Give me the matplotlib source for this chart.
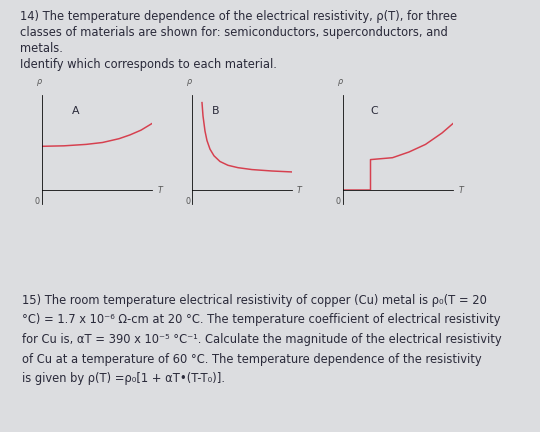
import matplotlib.pyplot as plt
import numpy as np

# data
a_T = [0.0, 0.2, 0.4, 0.55, 0.7, 0.8, 0.9, 1.0]
a_rho = [0.46, 0.465, 0.48, 0.5, 0.54, 0.58, 0.63, 0.70]
b_T = [0.1, 0.11, 0.13, 0.15, 0.18, 0.22, 0.28, 0.36, 0.46, 0.6, 0.8, 1.0]
b_rho = [0.92, 0.78, 0.62, 0.52, 0.43, 0.36, 0.30, 0.26, 0.235, 0.215, 0.2, 0.19]
c_T = [0.0, 0.25, 0.25, 0.45, 0.6, 0.75, 0.9, 1.0]
c_rho = [0.0, 0.0, 0.32, 0.34, 0.40, 0.48, 0.60, 0.70]
labels = ["A", "B", "C"]

W, H = 540, 432
fig = plt.figure(figsize=(7.5, 6), dpi=72)
fig.patch.set_facecolor("#dcdde0")
red = "#d6404f"
txt = "#2a2a3a"

def ax_px(x0, y0, w, h):
    return fig.add_axes([x0 / W, 1 - (y0 + h) / H, w / W, h / H])

boxes = [(42, 95, 110, 95), (192, 95, 100, 95), (343, 95, 110, 95)]
for (x0, y0, w, h), T, r, lab in zip(boxes, [a_T, b_T, c_T], [a_rho, b_rho, c_rho], labels):
    ax = ax_px(x0, y0, w, h)
    ax.set_facecolor("none")
    ax.plot(T, r, color=red, lw=1.5)
    ax.set_xlim(0, 1); ax.set_ylim(0, 1)
    for s in ["top", "right"]:
        ax.spines[s].set_visible(False)
    ax.spines["left"].set_bounds(-0.15, 1)
    ax.set_xticks([]); ax.set_yticks([])
    ax.text(1.05, 0.0, "T", style="italic", fontsize=8, color="#555", transform=ax.transAxes, va="center")
    ax.text(-0.05, 1.12, "ρ", style="italic", fontsize=8, color="#555", transform=ax.transAxes)
    ax.text(-0.02, -0.12, "0", fontsize=8, color="#555", transform=ax.transAxes, ha="right", va="center")
    ax.text(0.27 if lab == "A" else 0.2 if lab == "B" else 0.25, 0.8, lab, fontsize=11, color=txt, transform=ax.transAxes)

top = ["14) The temperature dependence of the electrical resistivity, ρ(T), for three",
       "classes of materials are shown for: semiconductors, superconductors, and",
       "metals.",
       "Identify which corresponds to each material."]
for i, s in enumerate(top):
    fig.text(20 / W, 1 - (10 + i * 16) / H, s, fontsize=11.5, color=txt, va="top")

bot = ["15) The room temperature electrical resistivity of copper (Cu) metal is ρ₀(T = 20",
       "°C) = 1.7 x 10⁻⁶ Ω-cm at 20 °C. The temperature coefficient of electrical resistivity",
       "for Cu is, αT = 390 x 10⁻⁵ °C⁻¹. Calculate the magnitude of the electrical resistivity",
       "of Cu at a temperature of 60 °C. The temperature dependence of the resistivity",
       "is given by ρ(T) =ρ₀[1 + αT•(T-T₀)]."]
for i, s in enumerate(bot):
    fig.text(22 / W, 1 - (294 + i * 19.5) / H, s, fontsize=11.5, color=txt, va="top")

fig.savefig("out.png", dpi=72, facecolor=fig.get_facecolor())
